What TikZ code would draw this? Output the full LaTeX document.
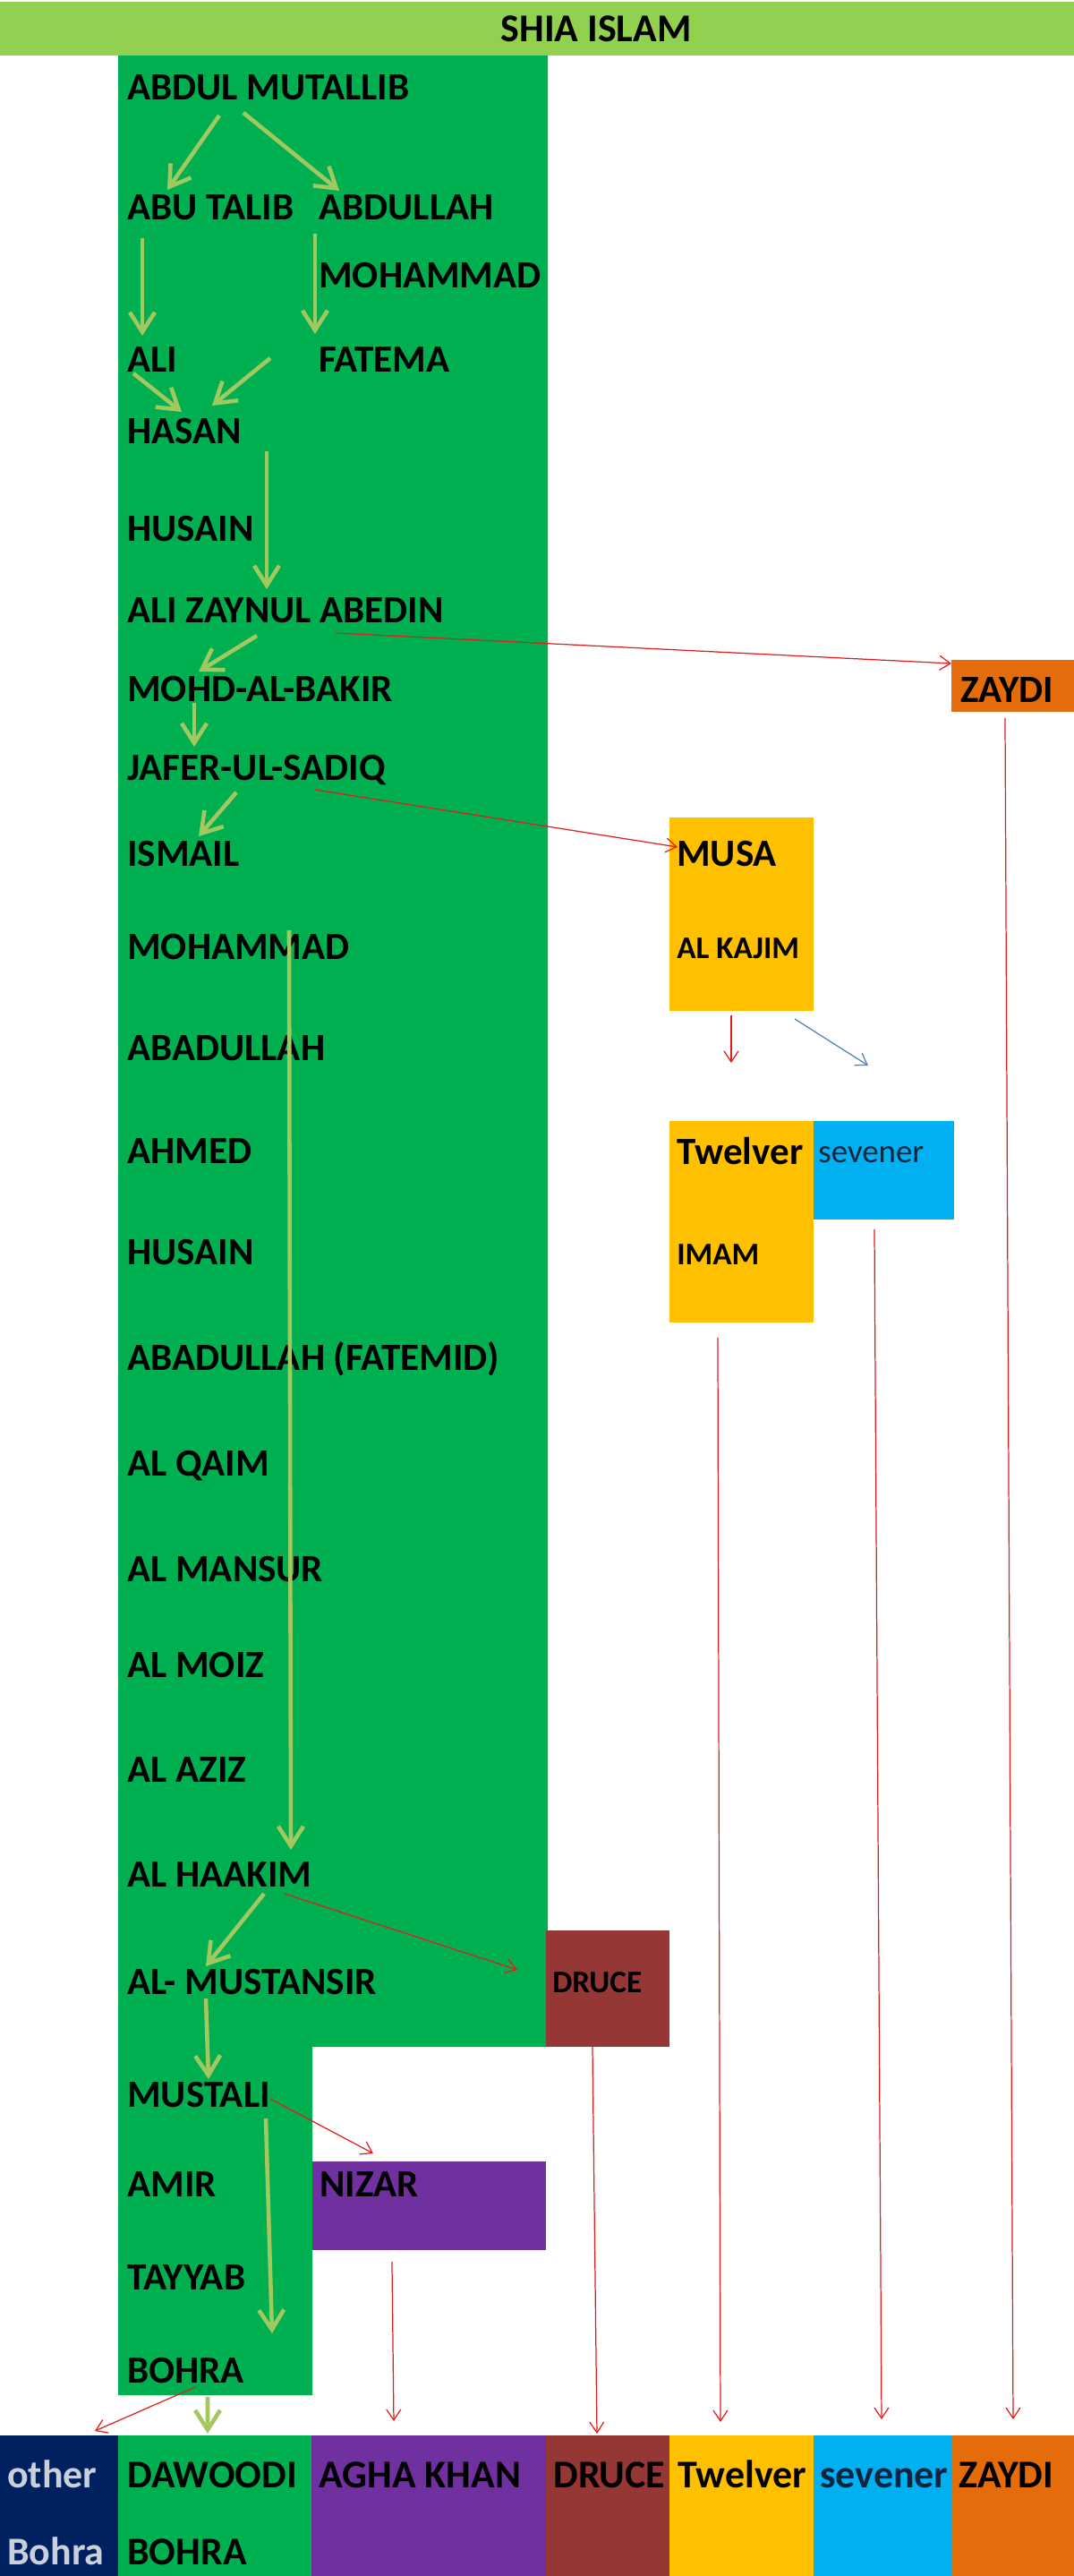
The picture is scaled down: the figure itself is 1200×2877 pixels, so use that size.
\documentclass[tikz,border=0pt]{standalone}
\usepackage{fontspec}
\setmainfont{Carlito}
\usepackage{tikz}
\usetikzlibrary{arrows.meta, calc}
\definecolor{lightgreen}{RGB}{146,208,80}
\definecolor{mygreen}{RGB}{0,176,80}
\definecolor{arrowgreen}{RGB}{163,200,95}
\definecolor{myred}{RGB}{225,30,30}
\definecolor{myblue}{RGB}{79,129,189}
\definecolor{myorange}{RGB}{228,108,10}
\definecolor{mygold}{RGB}{255,192,0}
\definecolor{skyblue}{RGB}{0,176,240}
\definecolor{mybrown}{RGB}{149,55,53}
\definecolor{mypurple}{RGB}{112,48,160}
\definecolor{mynavy}{RGB}{0,32,96}
\definecolor{mygray}{RGB}{200,208,220}
\definecolor{darknavy}{RGB}{15,36,62}

\begin{document}
\begin{tikzpicture}[x=0.02cm, y=-0.02cm,
    person/.style={anchor=west, inner sep=0pt, font=\fontsize{24.5}{29}\selectfont\bfseries, text height=15.8pt, text depth=0pt},
    smallname/.style={person, font=\fontsize{20}{24}\selectfont\bfseries, text height=12.9pt},
    bigname/.style={person, font=\fontsize{25}{30}\selectfont\bfseries, text height=16.1pt},
    box/.style={anchor=north west, inner sep=0pt, outer sep=0pt},
    cell/.style={box, minimum height=3.14cm},
    gline/.style={arrowgreen, line width=2.6pt, -{Straight Barb[length=0.44cm, width=0.56cm]}},
    rline/.style={myred, line width=0.7pt, -{Straight Barb[length=0.24cm, width=0.32cm]}}]
    \useasboundingbox (0,0) rectangle (1200,2877);
    \fill[white] (0,0) rectangle (1200,2877);

    % Title bar
    \fill[lightgreen] (0,2) rectangle (1200,62);
    \node[bigname, anchor=center] (title) at (666,32) {SHIA ISLAM};

    % Main line
    \fill[mygreen] (132,62) -- (612,62) -- (612,2286) -- (349,2286) -- (349,2675) -- (132,2675) -- cycle;
    \node[person] (abdul) at (142,98) {ABDUL MUTALLIB};
    \node[person] (abutalib) at (142,232) {ABU TALIB};
    \node[person] (abdullah) at (356,232) {ABDULLAH};
    \node[person] (mohammad) at (356,308) {MOHAMMAD};
    \node[person] (ali) at (142,402) {ALI};
    \node[person] (fatema) at (356,402) {FATEMA};
    \node[person] (hasan) at (142,482) {HASAN};
    \node[person] (husain) at (142,591) {HUSAIN};
    \node[person] (zaynul) at (142,682) {ALI ZAYNUL ABEDIN};
    \node[person] (bakir) at (142,770) {MOHD-AL-BAKIR};
    \node[person] (sadiq) at (142,858) {JAFER-UL-SADIQ};
    \node[person] (ismail) at (142,954) {ISMAIL};
    \node[person] (mohd) at (142,1058) {MOHAMMAD};
    \node[person] (abad) at (142,1171) {ABADULLAH};
    \node[person] (ahmed) at (142,1286) {AHMED};
    \node[person] (husainb) at (142,1399) {HUSAIN};
    \node[person] (fatemid) at (142,1517) {ABADULLAH (FATEMID)};
    \node[person] (qaim) at (142,1635) {AL QAIM};
    \node[person] (mansur) at (142,1753) {AL MANSUR};
    \node[person] (moiz) at (142,1860) {AL MOIZ};
    \node[person] (aziz) at (142,1977) {AL AZIZ};
    \node[person] (haakim) at (142,2094) {AL HAAKIM};
    \node[person] (mustansir) at (142,2214) {AL- MUSTANSIR};
    \node[person] (mustali) at (142,2340) {MUSTALI};
    \node[person] (amir) at (142,2440) {AMIR};
    \node[person] (tayyab) at (142,2544) {TAYYAB};
    \node[person] (bohra) at (142,2648) {BOHRA};

    % Side branches
    \node[box, fill=myorange, minimum width=2.74cm, minimum height=1.16cm] (zaydibox) at (1063,737) {};
    \node[person] (zaydi) at (1073,771) {ZAYDI};
    \node[box, fill=mygold, minimum width=3.22cm, minimum height=4.32cm] (musabox) at (748,913) {};
    \node[person] (musa) at (756,954) {MUSA};
    \node[smallname] (kajim) at (756,1059) {AL KAJIM};
    \node[box, fill=mygold, minimum width=3.22cm, minimum height=4.5cm] (twelvebox) at (748,1252) {};
    \node[person] (twelver) at (756,1287) {Twelver};
    \node[smallname] (imam) at (756,1401) {IMAM};
    \node[box, fill=skyblue, minimum width=3.14cm, minimum height=2.2cm] (sevenbox) at (909,1252) {};
    \node[smallname, font=\fontsize{21}{25}\selectfont, text height=13.5pt, darknavy] (sevener) at (914,1287) {sevener};
    \node[box, fill=mybrown, minimum width=2.76cm, minimum height=2.6cm] (drucebox) at (610,2156) {};
    \node[smallname] (druce) at (617,2214) {DRUCE};
    \node[box, fill=mypurple, minimum width=5.22cm, minimum height=1.98cm] (nizarbox) at (349,2414) {};
    \node[person] (nizar) at (357,2440) {NIZAR};

    % Bottom row
    \node[cell, fill=mynavy, minimum width=2.64cm] (otherc) at (0,2720) {};
    \node[cell, fill=mygreen, minimum width=4.32cm] (dawoodic) at (132,2720) {};
    \node[cell, fill=mypurple, minimum width=5.24cm] (aghac) at (348,2720) {};
    \node[cell, fill=mybrown, minimum width=2.76cm] (drucec) at (610,2720) {};
    \node[cell, fill=mygold, minimum width=3.22cm] (twelverc) at (748,2720) {};
    \node[cell, fill=skyblue, minimum width=3.1cm] (sevenc) at (909,2720) {};
    \node[cell, fill=myorange, minimum width=2.72cm] (zaydic) at (1064,2720) {};
    \node[bigname, mygray] (other) at (8,2764) {other};
    \node[bigname, mygray] (otherb) at (8,2850) {Bohra};
    \node[bigname] (dawoodi) at (142,2764) {DAWOODI};
    \node[bigname] (dawoodib) at (142,2850) {BOHRA};
    \node[bigname] (agha) at (356,2764) {AGHA KHAN};
    \node[bigname] (druceb) at (618,2764) {DRUCE};
    \node[bigname] (twelverb) at (757,2764) {Twelver};
    \node[bigname, darknavy] (severb) at (916,2764) {sevener};
    \node[bigname] (zaydib) at (1071,2764) {ZAYDI};

    % Green arrows
    \draw[gline] ($(abdul.west)+(103,31)$) -- ($(abutalib.west)+(45,-20)$);
    \draw[gline] ($(abdul.west)+(130,28)$) -- ($(abdullah.west)+(23,-19)$);
    \draw[gline] ($(abutalib.west)+(17,34)$) -- ($(ali.west)+(17,-27)$);
    \draw[gline] ($(abdullah.west)+(-4,29)$) -- ($(fatema.west)+(-4,-29)$);
    \draw[gline] ($(ali.west)+(7,15)$) -- ($(hasan.west)+(61,-22)$);
    \draw[gline] ($(fatema.west)+(-54,-2)$) -- ($(hasan.west)+(95,-29)$);
    \draw[gline] ($(hasan.west)+(156,22)$) -- ($(zaynul.west)+(156,-24)$);
    \draw[gline] ($(zaynul.west)+(145,28)$) -- ($(bakir.west)+(80,-20)$);
    \draw[gline] ($(bakir.west)+(75,15)$) -- ($(sadiq.west)+(75,-24)$);
    \draw[gline] ($(sadiq.west)+(122,27)$) -- ($(ismail.west)+(80,-20)$);
    \draw[gline] ($(mohd.west)+(181,-19)$) -- ($(haakim.west)+(183,-28)$);
    \draw[gline] ($(haakim.west)+(153,21)$) -- ($(mustansir.west)+(88,-18)$);
    \draw[gline] ($(mustansir.west)+(88,18)$) -- ($(mustali.west)+(91,-18)$);
    \draw[gline] ($(mustali.west)+(155,26)$) -- ($(bohra.west)+(162,-42)$);
    \draw[gline] ($(bohra.west)+(90,29)$) -- ($(dawoodic.north)+(-8,-2)$);

    % Red arrows
    \draw[rline] ($(zaynul.west)+(233,25)$) -- ($(zaydibox.north west)+(0,4)$);
    \draw[rline] ($(sadiq.west)+(210,24)$) -- ($(musa.west)+(1,-8)$);
    \draw[rline] ($(musabox.south)+(-11.5,5)$) -- ($(twelvebox.north)+(-11.5,-65)$);
    \draw[rline, myblue] ($(musabox.south east)+(-21,9)$) -- ($(sevenbox.north)+(-17.5,-62)$);
    \draw[rline] ($(zaydibox.south)+(-8.5,7)$) -- ($(zaydic.north)+(0,-18)$);
    \draw[rline] ($(sevenbox.south)+(-10.5,11)$) -- ($(sevenc.north)+(-1.5,-18)$);
    \draw[rline] ($(twelvebox.south)+(-26.5,17)$) -- ($(twelverc.north)+(-23.5,-15)$);
    \draw[rline] ($(haakim.west)+(176,21)$) -- ($(drucebox.west)+(-32,-21)$);
    \draw[rline] ($(drucebox.south)+(-17,0)$) -- ($(drucec.north)+(-12,-2)$);
    \draw[rline] ($(mustali.west)+(160,4)$) -- ($(nizarbox.north)+(-62.5,-9)$);
    \draw[rline] ($(nizarbox.south)+(-41.5,13)$) -- ($(aghac.north)+(-39,-16)$);
    \draw[rline] ($(bohra.west)+(76,18)$) -- ($(otherc.north)+(40,-5)$);
\end{tikzpicture}
\end{document}
